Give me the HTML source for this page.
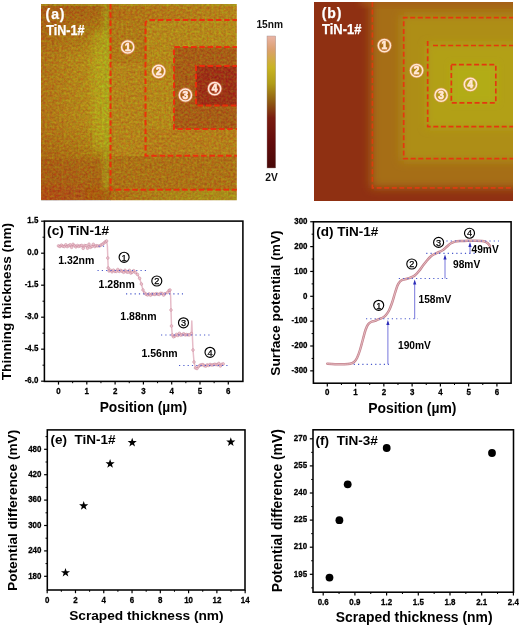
<!DOCTYPE html>
<html lang="en"><head><meta charset="utf-8"><title>Figure</title>
<style>html,body{margin:0;padding:0;background:#fff;}body{width:520px;height:627px;overflow:hidden;font-family:"Liberation Sans",Arial,sans-serif;}svg{display:block;}text{font-family:"Liberation Sans",Arial,sans-serif;font-weight:bold;}</style></head><body>
<svg width="520" height="627" viewBox="0 0 520 627">
<defs>
<clipPath id="ca"><rect x="41" y="4" width="195.8" height="196.2"/></clipPath>
<clipPath id="cb"><rect x="314" y="2" width="199" height="199"/></clipPath>
<filter id="grain" x="0" y="0" width="100%" height="100%" color-interpolation-filters="sRGB"><feTurbulence type="fractalNoise" baseFrequency="0.42" numOctaves="2" seed="3" result="t"/><feColorMatrix in="t" type="matrix" values="0.16 0 0 0 0.42  0 0.36 0 0 0.32  0 0 0.06 0 0.47  0 0 0 0 1" result="n"/><feComposite operator="arithmetic" in="SourceGraphic" in2="n" k1="0" k2="1" k3="1" k4="-0.5"/></filter>
<filter id="blur6" x="-20%" y="-20%" width="140%" height="140%"><feGaussianBlur stdDeviation="4.6"/></filter>
<filter id="blur4" x="-20%" y="-20%" width="140%" height="140%"><feGaussianBlur stdDeviation="4"/></filter>
<filter id="blur5" x="-20%" y="-20%" width="140%" height="140%"><feGaussianBlur stdDeviation="5"/></filter>
<filter id="blur3" x="-20%" y="-20%" width="140%" height="140%"><feGaussianBlur stdDeviation="3"/></filter>
<filter id="blur04" x="-5%" y="-5%" width="110%" height="110%"><feGaussianBlur stdDeviation="0.45"/></filter>
<filter id="blur1" x="-20%" y="-20%" width="140%" height="140%"><feGaussianBlur stdDeviation="1.2"/></filter>
<linearGradient id="cbar" x1="0" y1="0" x2="0" y2="1"><stop offset="0" stop-color="#EAB4A6"/><stop offset="0.10" stop-color="#DCA070"/><stop offset="0.24" stop-color="#C8B422"/><stop offset="0.36" stop-color="#B09C18"/><stop offset="0.50" stop-color="#8E5A12"/><stop offset="0.62" stop-color="#7A1C10"/><stop offset="0.80" stop-color="#640C0C"/><stop offset="1" stop-color="#480808"/></linearGradient>
<linearGradient id="aleft" x1="0" y1="0" x2="0" y2="1"><stop offset="0" stop-color="#A86414"/><stop offset="0.13" stop-color="#AA7A14"/><stop offset="0.28" stop-color="#B6961A"/><stop offset="0.6" stop-color="#B6941A"/><stop offset="0.78" stop-color="#AC7E14"/><stop offset="0.80" stop-color="#A86C14"/><stop offset="1" stop-color="#A86414"/></linearGradient>
<linearGradient id="abot" x1="0" y1="0" x2="1" y2="0"><stop offset="0" stop-color="#AE7016"/><stop offset="0.5" stop-color="#AC8418"/><stop offset="1" stop-color="#AA8C1A"/></linearGradient>
<linearGradient id="abl" x1="0" y1="0" x2="1" y2="0"><stop offset="0" stop-color="#B04812" stop-opacity="0.6"/><stop offset="1" stop-color="#B04812" stop-opacity="0"/></linearGradient>
<linearGradient id="atop" x1="0" y1="0" x2="1" y2="0"><stop offset="0" stop-color="#B07016"/><stop offset="1" stop-color="#B4841A"/></linearGradient>
<linearGradient id="afade" x1="0" y1="0" x2="1" y2="0"><stop offset="0" stop-color="#A85014" stop-opacity="0.5"/><stop offset="1" stop-color="#A85418" stop-opacity="0"/></linearGradient>
</defs>
<rect x="0" y="0" width="520" height="627" fill="#ffffff"/>
<g clip-path="url(#ca)">
<g filter="url(#grain)">
<rect x="41" y="4" width="196" height="196" fill="url(#aleft)"/>
<rect x="41" y="4" width="70" height="196" fill="url(#afade)"/>
<rect x="92" y="30" width="18" height="120" fill="#B2AE1C" opacity="0.5" filter="url(#blur3)"/>
<rect x="101" y="4" width="9" height="186" fill="#B2A81C" opacity="0.3" filter="url(#blur1)"/>
<rect x="104.5" y="4" width="3.5" height="190" fill="#A0AC20" opacity="0.4" filter="url(#blur1)"/>
<rect x="110.5" y="4" width="127" height="186" fill="#B4841A"/>
<rect x="110.5" y="4" width="127" height="16" fill="url(#atop)"/>
<rect x="110.5" y="20" width="35" height="43" fill="#AC7216" opacity="0.55"/>
<rect x="110.5" y="156" width="127" height="34" fill="#AC7216"/>
<rect x="146" y="20" width="92" height="136" fill="#B4881A"/>
<rect x="146" y="129" width="92" height="27" fill="#B47E1A"/>
<rect x="174" y="47" width="64" height="82" fill="#A65E16"/>
<rect x="196" y="66" width="42" height="39.5" fill="#9C3416"/>
<rect x="41" y="4" width="196" height="2" fill="#A89A1C" opacity="0.6"/>
<rect x="110.5" y="190" width="127" height="11" fill="url(#abot)"/>
<rect x="41" y="186" width="90" height="15" fill="url(#abl)" filter="url(#blur1)"/>
</g>
<g filter="url(#blur04)" opacity="0.92">
<path d="M110.5 4 V189.7 H238" stroke="#F02C0C" stroke-width="2" fill="none" stroke-dasharray="5.5 2.8"/>
<path d="M238 20 H149.5 Q145.5 20 145.5 24 V155.8 H238" stroke="#F02C0C" stroke-width="2" fill="none" stroke-dasharray="5.5 2.8"/>
<path d="M238 47 H174 V129 H238" stroke="#F02C0C" stroke-width="2" fill="none" stroke-dasharray="5.5 2.8"/>
<path d="M238 66 H196 V105.5 H238" stroke="#F02C0C" stroke-width="2" fill="none" stroke-dasharray="5.5 2.8"/>
</g>
</g>
<circle cx="127.7" cy="47" r="6.1" fill="none" stroke="#F29A78" stroke-width="3.1" opacity="0.45"/>
<circle cx="127.7" cy="47" r="6.1" fill="none" stroke="#FFE9DC" stroke-width="1.5"/>
<text x="127.7" y="50.55" font-size="10" text-anchor="middle" fill="#FFE9DC" stroke="#F29A78" stroke-width="1.6" stroke-opacity="0.45" paint-order="stroke">1</text>
<text x="127.7" y="50.55" font-size="10" text-anchor="middle" fill="#FFE9DC" stroke="#FFE9DC" stroke-width="0.4">1</text>
<circle cx="158.7" cy="71.3" r="6.1" fill="none" stroke="#F29A78" stroke-width="3.1" opacity="0.45"/>
<circle cx="158.7" cy="71.3" r="6.1" fill="none" stroke="#FFE9DC" stroke-width="1.5"/>
<text x="158.7" y="74.85" font-size="10" text-anchor="middle" fill="#FFE9DC" stroke="#F29A78" stroke-width="1.6" stroke-opacity="0.45" paint-order="stroke">2</text>
<text x="158.7" y="74.85" font-size="10" text-anchor="middle" fill="#FFE9DC" stroke="#FFE9DC" stroke-width="0.4">2</text>
<circle cx="185.4" cy="95" r="6.1" fill="none" stroke="#F29A78" stroke-width="3.1" opacity="0.45"/>
<circle cx="185.4" cy="95" r="6.1" fill="none" stroke="#FFE9DC" stroke-width="1.5"/>
<text x="185.4" y="98.55" font-size="10" text-anchor="middle" fill="#FFE9DC" stroke="#F29A78" stroke-width="1.6" stroke-opacity="0.45" paint-order="stroke">3</text>
<text x="185.4" y="98.55" font-size="10" text-anchor="middle" fill="#FFE9DC" stroke="#FFE9DC" stroke-width="0.4">3</text>
<circle cx="214.6" cy="88.7" r="6.1" fill="none" stroke="#F29A78" stroke-width="3.1" opacity="0.45"/>
<circle cx="214.6" cy="88.7" r="6.1" fill="none" stroke="#FFE9DC" stroke-width="1.5"/>
<text x="214.6" y="92.25" font-size="10" text-anchor="middle" fill="#FFE9DC" stroke="#F29A78" stroke-width="1.6" stroke-opacity="0.45" paint-order="stroke">4</text>
<text x="214.6" y="92.25" font-size="10" text-anchor="middle" fill="#FFE9DC" stroke="#FFE9DC" stroke-width="0.4">4</text>
<text x="45.6" y="19" font-size="14" letter-spacing="0.9" fill="#ffffff" stroke="#ffffff" stroke-width="0.25">(a)</text>
<text x="46.2" y="35" font-size="14.2" textLength="38.3" lengthAdjust="spacingAndGlyphs" fill="#ffffff" stroke="#ffffff" stroke-width="0.25">TiN-1#</text>
<rect x="267" y="36" width="8.7" height="132" fill="url(#cbar)" stroke="#9a8a88" stroke-width="0.4"/>
<text x="269.7" y="27.8" font-size="10.2" text-anchor="middle" fill="#111">15nm</text>
<text x="271.6" y="181.4" font-size="10.2" text-anchor="middle" fill="#111">2V</text>
<g clip-path="url(#cb)">
<rect x="314" y="2" width="199" height="199" fill="#8F3012"/>
<rect x="371" y="-30" width="190" height="218" fill="#A66E14" filter="url(#blur6)"/>
<rect x="401" y="15" width="160" height="146" fill="#AE8E16" filter="url(#blur5)"/>
<rect x="427" y="44" width="130" height="84" fill="#B2A016" filter="url(#blur4)"/>
<rect x="451" y="64" width="46" height="39" fill="#B2AC18" filter="url(#blur3)"/>
<rect x="360" y="-6" width="160" height="12" fill="#A45A12" opacity="0.7" filter="url(#blur3)"/>
<g filter="url(#blur04)">
<path d="M372.4 2 V187.8 H514" stroke="#E43810" stroke-width="1.7" fill="none" stroke-dasharray="5 2.6" opacity="0.85"/>
<path d="M514 17.6 H403.7 V158.7 H514" stroke="#E43810" stroke-width="1.7" fill="none" stroke-dasharray="5 2.6"/>
<path d="M514 45.5 H431.5 M427.7 41 V126.6 H514" stroke="#E43810" stroke-width="1.7" fill="none" stroke-dasharray="5 2.6"/>
<path d="M451.3 64.7 H495.8 V102.8 H451.3 Z" stroke="#E43810" stroke-width="1.7" fill="none" stroke-dasharray="5 2.6"/>
</g>
</g>
<circle cx="384.4" cy="45.6" r="6.1" fill="none" stroke="#F29A78" stroke-width="3.1" opacity="0.45"/>
<circle cx="384.4" cy="45.6" r="6.1" fill="none" stroke="#FFE8D2" stroke-width="1.5"/>
<text x="384.4" y="49.15" font-size="10" text-anchor="middle" fill="#FFE8D2" stroke="#F29A78" stroke-width="1.6" stroke-opacity="0.45" paint-order="stroke">1</text>
<text x="384.4" y="49.15" font-size="10" text-anchor="middle" fill="#FFE8D2" stroke="#FFE8D2" stroke-width="0.4">1</text>
<circle cx="416.6" cy="70.6" r="6.1" fill="none" stroke="#F29A78" stroke-width="3.1" opacity="0.45"/>
<circle cx="416.6" cy="70.6" r="6.1" fill="none" stroke="#FFE8D2" stroke-width="1.5"/>
<text x="416.6" y="74.15" font-size="10" text-anchor="middle" fill="#FFE8D2" stroke="#F29A78" stroke-width="1.6" stroke-opacity="0.45" paint-order="stroke">2</text>
<text x="416.6" y="74.15" font-size="10" text-anchor="middle" fill="#FFE8D2" stroke="#FFE8D2" stroke-width="0.4">2</text>
<circle cx="441.1" cy="95.2" r="6.1" fill="none" stroke="#F29A78" stroke-width="3.1" opacity="0.45"/>
<circle cx="441.1" cy="95.2" r="6.1" fill="none" stroke="#FFE8D2" stroke-width="1.5"/>
<text x="441.1" y="98.75" font-size="10" text-anchor="middle" fill="#FFE8D2" stroke="#F29A78" stroke-width="1.6" stroke-opacity="0.45" paint-order="stroke">3</text>
<text x="441.1" y="98.75" font-size="10" text-anchor="middle" fill="#FFE8D2" stroke="#FFE8D2" stroke-width="0.4">3</text>
<circle cx="470.4" cy="84.4" r="6.1" fill="none" stroke="#F29A78" stroke-width="3.1" opacity="0.45"/>
<circle cx="470.4" cy="84.4" r="6.1" fill="none" stroke="#FFE8D2" stroke-width="1.5"/>
<text x="470.4" y="87.95" font-size="10" text-anchor="middle" fill="#FFE8D2" stroke="#F29A78" stroke-width="1.6" stroke-opacity="0.45" paint-order="stroke">4</text>
<text x="470.4" y="87.95" font-size="10" text-anchor="middle" fill="#FFE8D2" stroke="#FFE8D2" stroke-width="0.4">4</text>
<text x="321.7" y="18.2" font-size="14" letter-spacing="0.9" fill="#ffffff" stroke="#ffffff" stroke-width="0.25">(b)</text>
<text x="322" y="33.6" font-size="14.2" textLength="39.4" lengthAdjust="spacingAndGlyphs" fill="#ffffff" stroke="#ffffff" stroke-width="0.25">TiN-1#</text>
<rect x="44.4" y="221.1" width="198.5" height="160.29999999999998" fill="none" stroke="#000" stroke-width="1.55"/>
<line x1="58.50" y1="381.4" x2="58.50" y2="384.59999999999997" stroke="#000" stroke-width="1.2"/>
<text transform="translate(58.50 393.92) scale(0.97 1.13)" font-size="8.2" text-anchor="middle" fill="#000" stroke="#000" stroke-width="0.25">0</text>
<line x1="86.80" y1="381.4" x2="86.80" y2="384.59999999999997" stroke="#000" stroke-width="1.2"/>
<text transform="translate(86.80 393.92) scale(0.97 1.13)" font-size="8.2" text-anchor="middle" fill="#000" stroke="#000" stroke-width="0.25">1</text>
<line x1="115.10" y1="381.4" x2="115.10" y2="384.59999999999997" stroke="#000" stroke-width="1.2"/>
<text transform="translate(115.10 393.92) scale(0.97 1.13)" font-size="8.2" text-anchor="middle" fill="#000" stroke="#000" stroke-width="0.25">2</text>
<line x1="143.40" y1="381.4" x2="143.40" y2="384.59999999999997" stroke="#000" stroke-width="1.2"/>
<text transform="translate(143.40 393.92) scale(0.97 1.13)" font-size="8.2" text-anchor="middle" fill="#000" stroke="#000" stroke-width="0.25">3</text>
<line x1="171.70" y1="381.4" x2="171.70" y2="384.59999999999997" stroke="#000" stroke-width="1.2"/>
<text transform="translate(171.70 393.92) scale(0.97 1.13)" font-size="8.2" text-anchor="middle" fill="#000" stroke="#000" stroke-width="0.25">4</text>
<line x1="200.00" y1="381.4" x2="200.00" y2="384.59999999999997" stroke="#000" stroke-width="1.2"/>
<text transform="translate(200.00 393.92) scale(0.97 1.13)" font-size="8.2" text-anchor="middle" fill="#000" stroke="#000" stroke-width="0.25">5</text>
<line x1="228.30" y1="381.4" x2="228.30" y2="384.59999999999997" stroke="#000" stroke-width="1.2"/>
<text transform="translate(228.30 393.92) scale(0.97 1.13)" font-size="8.2" text-anchor="middle" fill="#000" stroke="#000" stroke-width="0.25">6</text>
<line x1="72.65" y1="381.4" x2="72.65" y2="383.2" stroke="#000" stroke-width="1"/>
<line x1="100.95" y1="381.4" x2="100.95" y2="383.2" stroke="#000" stroke-width="1"/>
<line x1="129.25" y1="381.4" x2="129.25" y2="383.2" stroke="#000" stroke-width="1"/>
<line x1="157.55" y1="381.4" x2="157.55" y2="383.2" stroke="#000" stroke-width="1"/>
<line x1="185.85" y1="381.4" x2="185.85" y2="383.2" stroke="#000" stroke-width="1"/>
<line x1="214.15" y1="381.4" x2="214.15" y2="383.2" stroke="#000" stroke-width="1"/>
<line x1="41.099999999999994" y1="221.20" x2="44.3" y2="221.20" stroke="#000" stroke-width="1.2"/>
<text transform="translate(38.4 223.42) scale(0.97 1.13)" font-size="8.2" text-anchor="end" fill="#000" stroke="#000" stroke-width="0.25">1.5</text>
<line x1="41.099999999999994" y1="253.20" x2="44.3" y2="253.20" stroke="#000" stroke-width="1.2"/>
<text transform="translate(38.4 255.42) scale(0.97 1.13)" font-size="8.2" text-anchor="end" fill="#000" stroke="#000" stroke-width="0.25">0.0</text>
<line x1="41.099999999999994" y1="285.19" x2="44.3" y2="285.19" stroke="#000" stroke-width="1.2"/>
<text transform="translate(38.4 287.41) scale(0.97 1.13)" font-size="8.2" text-anchor="end" fill="#000" stroke="#000" stroke-width="0.25">-1.5</text>
<line x1="41.099999999999994" y1="317.19" x2="44.3" y2="317.19" stroke="#000" stroke-width="1.2"/>
<text transform="translate(38.4 319.41) scale(0.97 1.13)" font-size="8.2" text-anchor="end" fill="#000" stroke="#000" stroke-width="0.25">-3.0</text>
<line x1="41.099999999999994" y1="349.18" x2="44.3" y2="349.18" stroke="#000" stroke-width="1.2"/>
<text transform="translate(38.4 351.40) scale(0.97 1.13)" font-size="8.2" text-anchor="end" fill="#000" stroke="#000" stroke-width="0.25">-4.5</text>
<line x1="41.099999999999994" y1="381.18" x2="44.3" y2="381.18" stroke="#000" stroke-width="1.2"/>
<text transform="translate(38.4 383.40) scale(0.97 1.13)" font-size="8.2" text-anchor="end" fill="#000" stroke="#000" stroke-width="0.25">-6.0</text>
<line x1="42.5" y1="237.20" x2="44.3" y2="237.20" stroke="#000" stroke-width="1"/>
<line x1="42.5" y1="269.20" x2="44.3" y2="269.20" stroke="#000" stroke-width="1"/>
<line x1="42.5" y1="301.19" x2="44.3" y2="301.19" stroke="#000" stroke-width="1"/>
<line x1="42.5" y1="333.19" x2="44.3" y2="333.19" stroke="#000" stroke-width="1"/>
<line x1="42.5" y1="365.18" x2="44.3" y2="365.18" stroke="#000" stroke-width="1"/>
<text transform="translate(11.1 301.6) rotate(-90)" font-size="13.62" text-anchor="middle" fill="#000">Thinning thickness (nm)</text>
<text x="143.4" y="411.6" font-size="13.75" text-anchor="middle" fill="#000">Position (&#181;m)</text>
<text x="47.1" y="234.6" font-size="13.7" fill="#000">(c) TiN-1#</text>
<path d="M58.5 245.9 L60.0 246.5 L61.4 245.2 L62.9 246.2 L64.3 246.6 L65.8 244.8 L67.2 246.6 L68.7 245.7 L70.1 244.8 L71.6 247.3 L73.0 244.3 L74.5 245.7 L75.9 246.9 L77.4 245.5 L78.8 246.4 L80.3 245.8 L81.7 245.4 L83.2 248.3 L84.6 245.6 L86.1 245.7 L87.5 248.2 L89.0 244.2 L90.4 247.3 L91.9 246.5 L93.3 244.3 L94.8 246.6 L96.2 245.7 L97.7 245.9 L99.5 246.0 L101.0 245.0 L102.5 244.2 L104.0 243.0 L105.4 241.8 L106.6 241.0 L107.4 246.0 L107.8 258.0 L108.2 268.0 L109.0 271.0 L110.5 270.2 L112.0 271.8 L113.4 270.2 L114.9 271.4 L116.3 271.4 L117.8 269.5 L119.2 271.4 L120.7 270.4 L122.1 271.3 L123.6 272.3 L125.0 270.3 L126.5 271.9 L127.9 272.2 L129.4 270.4 L130.8 273.1 L132.2 272.3 L133.7 270.7 L135.5 272.6 L137.5 274.5 L139.6 278.3 L141.4 284.0 L143.0 290.0 L144.6 293.0 L146.2 294.3 L147.6 295.0 L149.1 293.9 L150.5 295.2 L152.0 294.0 L153.4 294.2 L154.9 294.5 L156.3 293.7 L157.8 294.2 L159.2 294.5 L160.7 293.3 L162.1 293.5 L163.6 295.1 L165.0 293.7 L167.5 292.5 L169.0 290.5 L170.0 290.0 L170.6 296.0 L171.0 310.0 L171.5 326.0 L172.3 335.0 L173.5 336.8 L175.0 336.0 L176.5 334.4 L177.9 335.5 L179.4 333.3 L180.8 335.1 L182.3 334.6 L183.7 333.8 L185.2 334.9 L186.6 334.6 L188.1 334.8 L189.5 334.9 L191.3 333.5 L191.8 321.0 L192.3 334.0 L193.0 350.0 L194.0 362.0 L195.5 368.0 L197.0 368.5 L198.5 366.5 L200.0 365.3 L201.4 364.8 L202.9 364.6 L204.3 365.7 L205.8 366.1 L207.2 364.9 L208.7 365.4 L210.1 364.5 L211.6 365.0 L213.0 364.9 L214.5 364.3 L215.9 364.5 L217.4 364.8 L218.8 363.4 L220.3 366.0 L221.7 364.4 L223.2 363.9" fill="none" stroke="#E6BCC8" stroke-width="1.5" stroke-linejoin="round" stroke-linecap="round"/>
<g fill="#EFC4CF" fill-opacity="0.75" stroke="#C07C90" stroke-width="0.55" stroke-opacity="0.85">
<circle cx="58.5" cy="245.9" r="1.35"/>
<circle cx="60.0" cy="246.5" r="1.35"/>
<circle cx="61.4" cy="245.2" r="1.35"/>
<circle cx="62.9" cy="246.2" r="1.35"/>
<circle cx="64.3" cy="246.6" r="1.35"/>
<circle cx="65.8" cy="244.8" r="1.35"/>
<circle cx="67.2" cy="246.6" r="1.35"/>
<circle cx="68.7" cy="245.7" r="1.35"/>
<circle cx="70.1" cy="244.8" r="1.35"/>
<circle cx="71.6" cy="247.3" r="1.35"/>
<circle cx="73.0" cy="244.3" r="1.35"/>
<circle cx="74.5" cy="245.7" r="1.35"/>
<circle cx="75.9" cy="246.9" r="1.35"/>
<circle cx="77.4" cy="245.5" r="1.35"/>
<circle cx="78.8" cy="246.4" r="1.35"/>
<circle cx="80.3" cy="245.8" r="1.35"/>
<circle cx="81.7" cy="245.4" r="1.35"/>
<circle cx="83.2" cy="248.3" r="1.35"/>
<circle cx="84.6" cy="245.6" r="1.35"/>
<circle cx="86.1" cy="245.7" r="1.35"/>
<circle cx="87.5" cy="248.2" r="1.35"/>
<circle cx="89.0" cy="244.2" r="1.35"/>
<circle cx="90.4" cy="247.3" r="1.35"/>
<circle cx="91.9" cy="246.5" r="1.35"/>
<circle cx="93.3" cy="244.3" r="1.35"/>
<circle cx="94.8" cy="246.6" r="1.35"/>
<circle cx="96.2" cy="245.7" r="1.35"/>
<circle cx="97.7" cy="245.9" r="1.35"/>
<circle cx="99.5" cy="246.0" r="1.35"/>
<circle cx="101.0" cy="245.0" r="1.35"/>
<circle cx="102.5" cy="244.2" r="1.35"/>
<circle cx="104.0" cy="243.0" r="1.35"/>
<circle cx="105.4" cy="241.8" r="1.35"/>
<circle cx="106.6" cy="241.0" r="1.35"/>
<circle cx="107.8" cy="258.0" r="1.35"/>
<circle cx="108.2" cy="268.0" r="1.35"/>
<circle cx="109.0" cy="271.0" r="1.35"/>
<circle cx="110.5" cy="270.2" r="1.35"/>
<circle cx="112.0" cy="271.8" r="1.35"/>
<circle cx="113.4" cy="270.2" r="1.35"/>
<circle cx="114.9" cy="271.4" r="1.35"/>
<circle cx="116.3" cy="271.4" r="1.35"/>
<circle cx="117.8" cy="269.5" r="1.35"/>
<circle cx="119.2" cy="271.4" r="1.35"/>
<circle cx="120.7" cy="270.4" r="1.35"/>
<circle cx="122.1" cy="271.3" r="1.35"/>
<circle cx="123.6" cy="272.3" r="1.35"/>
<circle cx="125.0" cy="270.3" r="1.35"/>
<circle cx="126.5" cy="271.9" r="1.35"/>
<circle cx="127.9" cy="272.2" r="1.35"/>
<circle cx="129.4" cy="270.4" r="1.35"/>
<circle cx="130.8" cy="273.1" r="1.35"/>
<circle cx="132.2" cy="272.3" r="1.35"/>
<circle cx="133.7" cy="270.7" r="1.35"/>
<circle cx="135.5" cy="272.6" r="1.35"/>
<circle cx="137.5" cy="274.5" r="1.35"/>
<circle cx="139.6" cy="278.3" r="1.35"/>
<circle cx="141.4" cy="284.0" r="1.35"/>
<circle cx="143.0" cy="290.0" r="1.35"/>
<circle cx="144.6" cy="293.0" r="1.35"/>
<circle cx="146.2" cy="294.3" r="1.35"/>
<circle cx="147.6" cy="295.0" r="1.35"/>
<circle cx="149.1" cy="293.9" r="1.35"/>
<circle cx="150.5" cy="295.2" r="1.35"/>
<circle cx="152.0" cy="294.0" r="1.35"/>
<circle cx="153.4" cy="294.2" r="1.35"/>
<circle cx="154.9" cy="294.5" r="1.35"/>
<circle cx="156.3" cy="293.7" r="1.35"/>
<circle cx="157.8" cy="294.2" r="1.35"/>
<circle cx="159.2" cy="294.5" r="1.35"/>
<circle cx="160.7" cy="293.3" r="1.35"/>
<circle cx="162.1" cy="293.5" r="1.35"/>
<circle cx="163.6" cy="295.1" r="1.35"/>
<circle cx="165.0" cy="293.7" r="1.35"/>
<circle cx="167.5" cy="292.5" r="1.35"/>
<circle cx="169.0" cy="290.5" r="1.35"/>
<circle cx="170.0" cy="290.0" r="1.35"/>
<circle cx="171.0" cy="310.0" r="1.35"/>
<circle cx="171.5" cy="326.0" r="1.35"/>
<circle cx="172.3" cy="335.0" r="1.35"/>
<circle cx="173.5" cy="336.8" r="1.35"/>
<circle cx="175.0" cy="336.0" r="1.35"/>
<circle cx="176.5" cy="334.4" r="1.35"/>
<circle cx="177.9" cy="335.5" r="1.35"/>
<circle cx="179.4" cy="333.3" r="1.35"/>
<circle cx="180.8" cy="335.1" r="1.35"/>
<circle cx="182.3" cy="334.6" r="1.35"/>
<circle cx="183.7" cy="333.8" r="1.35"/>
<circle cx="185.2" cy="334.9" r="1.35"/>
<circle cx="186.6" cy="334.6" r="1.35"/>
<circle cx="188.1" cy="334.8" r="1.35"/>
<circle cx="189.5" cy="334.9" r="1.35"/>
<circle cx="191.3" cy="333.5" r="1.35"/>
<circle cx="193.0" cy="350.0" r="1.35"/>
<circle cx="194.0" cy="362.0" r="1.35"/>
<circle cx="195.5" cy="368.0" r="1.35"/>
<circle cx="197.0" cy="368.5" r="1.35"/>
<circle cx="198.5" cy="366.5" r="1.35"/>
<circle cx="200.0" cy="365.3" r="1.35"/>
<circle cx="201.4" cy="364.8" r="1.35"/>
<circle cx="202.9" cy="364.6" r="1.35"/>
<circle cx="204.3" cy="365.7" r="1.35"/>
<circle cx="205.8" cy="366.1" r="1.35"/>
<circle cx="207.2" cy="364.9" r="1.35"/>
<circle cx="208.7" cy="365.4" r="1.35"/>
<circle cx="210.1" cy="364.5" r="1.35"/>
<circle cx="211.6" cy="365.0" r="1.35"/>
<circle cx="213.0" cy="364.9" r="1.35"/>
<circle cx="214.5" cy="364.3" r="1.35"/>
<circle cx="215.9" cy="364.5" r="1.35"/>
<circle cx="217.4" cy="364.8" r="1.35"/>
<circle cx="218.8" cy="363.4" r="1.35"/>
<circle cx="220.3" cy="366.0" r="1.35"/>
<circle cx="221.7" cy="364.4" r="1.35"/>
<circle cx="223.2" cy="363.9" r="1.35"/>
</g>
<line x1="98.6" y1="246.3" x2="107.0" y2="246.3" stroke="#4A5ACC" stroke-width="1.1" stroke-dasharray="1.2 3.1"/>
<line x1="97.5" y1="270.5" x2="147.0" y2="270.5" stroke="#4A5ACC" stroke-width="1.1" stroke-dasharray="1.2 3.1"/>
<line x1="126.0" y1="293.9" x2="183.0" y2="293.9" stroke="#4A5ACC" stroke-width="1.1" stroke-dasharray="1.2 3.1"/>
<line x1="161.0" y1="335.0" x2="211.0" y2="335.0" stroke="#4A5ACC" stroke-width="1.1" stroke-dasharray="1.2 3.1"/>
<line x1="179.0" y1="365.5" x2="229.0" y2="365.5" stroke="#4A5ACC" stroke-width="1.1" stroke-dasharray="1.2 3.1"/>
<circle cx="124.1" cy="257.3" r="5.0" fill="none" stroke="#000" stroke-width="1.15"/>
<text x="124.1" y="260.57" font-size="9.2" text-anchor="middle" fill="#000" stroke="#000" stroke-width="0.25" style="font-weight:normal">1</text>
<circle cx="156.8" cy="281" r="5.0" fill="none" stroke="#000" stroke-width="1.15"/>
<text x="156.8" y="284.27" font-size="9.2" text-anchor="middle" fill="#000" stroke="#000" stroke-width="0.25" style="font-weight:normal">2</text>
<circle cx="183.5" cy="322.8" r="5.0" fill="none" stroke="#000" stroke-width="1.15"/>
<text x="183.5" y="326.07" font-size="9.2" text-anchor="middle" fill="#000" stroke="#000" stroke-width="0.25" style="font-weight:normal">3</text>
<circle cx="210" cy="352.3" r="5.0" fill="none" stroke="#000" stroke-width="1.15"/>
<text x="210" y="355.57" font-size="9.2" text-anchor="middle" fill="#000" stroke="#000" stroke-width="0.25" style="font-weight:normal">4</text>
<text x="58.2" y="263.9" font-size="10.5" fill="#000">1.32nm</text>
<text x="98.6" y="288" font-size="10.5" fill="#000">1.28nm</text>
<text x="120.3" y="320.1" font-size="10.5" fill="#000">1.88nm</text>
<text x="141.5" y="356.8" font-size="10.5" fill="#000">1.56nm</text>
<rect x="313.4" y="221.8" width="197.70000000000005" height="161.39999999999998" fill="none" stroke="#000" stroke-width="1.55"/>
<line x1="327.30" y1="383.2" x2="327.30" y2="386.4" stroke="#000" stroke-width="1.2"/>
<text transform="translate(327.30 395.32) scale(0.97 1.13)" font-size="8.2" text-anchor="middle" fill="#000" stroke="#000" stroke-width="0.25">0</text>
<line x1="355.57" y1="383.2" x2="355.57" y2="386.4" stroke="#000" stroke-width="1.2"/>
<text transform="translate(355.57 395.32) scale(0.97 1.13)" font-size="8.2" text-anchor="middle" fill="#000" stroke="#000" stroke-width="0.25">1</text>
<line x1="383.84" y1="383.2" x2="383.84" y2="386.4" stroke="#000" stroke-width="1.2"/>
<text transform="translate(383.84 395.32) scale(0.97 1.13)" font-size="8.2" text-anchor="middle" fill="#000" stroke="#000" stroke-width="0.25">2</text>
<line x1="412.11" y1="383.2" x2="412.11" y2="386.4" stroke="#000" stroke-width="1.2"/>
<text transform="translate(412.11 395.32) scale(0.97 1.13)" font-size="8.2" text-anchor="middle" fill="#000" stroke="#000" stroke-width="0.25">3</text>
<line x1="440.38" y1="383.2" x2="440.38" y2="386.4" stroke="#000" stroke-width="1.2"/>
<text transform="translate(440.38 395.32) scale(0.97 1.13)" font-size="8.2" text-anchor="middle" fill="#000" stroke="#000" stroke-width="0.25">4</text>
<line x1="468.65" y1="383.2" x2="468.65" y2="386.4" stroke="#000" stroke-width="1.2"/>
<text transform="translate(468.65 395.32) scale(0.97 1.13)" font-size="8.2" text-anchor="middle" fill="#000" stroke="#000" stroke-width="0.25">5</text>
<line x1="496.92" y1="383.2" x2="496.92" y2="386.4" stroke="#000" stroke-width="1.2"/>
<text transform="translate(496.92 395.32) scale(0.97 1.13)" font-size="8.2" text-anchor="middle" fill="#000" stroke="#000" stroke-width="0.25">6</text>
<line x1="341.44" y1="383.2" x2="341.44" y2="385.0" stroke="#000" stroke-width="1"/>
<line x1="369.71" y1="383.2" x2="369.71" y2="385.0" stroke="#000" stroke-width="1"/>
<line x1="397.98" y1="383.2" x2="397.98" y2="385.0" stroke="#000" stroke-width="1"/>
<line x1="426.25" y1="383.2" x2="426.25" y2="385.0" stroke="#000" stroke-width="1"/>
<line x1="454.51" y1="383.2" x2="454.51" y2="385.0" stroke="#000" stroke-width="1"/>
<line x1="482.78" y1="383.2" x2="482.78" y2="385.0" stroke="#000" stroke-width="1"/>
<line x1="310.2" y1="221.75" x2="313.4" y2="221.75" stroke="#000" stroke-width="1.2"/>
<text transform="translate(307.5 223.97) scale(0.97 1.13)" font-size="8.2" text-anchor="end" fill="#000" stroke="#000" stroke-width="0.25">300</text>
<line x1="310.2" y1="246.60" x2="313.4" y2="246.60" stroke="#000" stroke-width="1.2"/>
<text transform="translate(307.5 248.82) scale(0.97 1.13)" font-size="8.2" text-anchor="end" fill="#000" stroke="#000" stroke-width="0.25">200</text>
<line x1="310.2" y1="271.45" x2="313.4" y2="271.45" stroke="#000" stroke-width="1.2"/>
<text transform="translate(307.5 273.67) scale(0.97 1.13)" font-size="8.2" text-anchor="end" fill="#000" stroke="#000" stroke-width="0.25">100</text>
<line x1="310.2" y1="296.30" x2="313.4" y2="296.30" stroke="#000" stroke-width="1.2"/>
<text transform="translate(307.5 298.52) scale(0.97 1.13)" font-size="8.2" text-anchor="end" fill="#000" stroke="#000" stroke-width="0.25">0</text>
<line x1="310.2" y1="321.15" x2="313.4" y2="321.15" stroke="#000" stroke-width="1.2"/>
<text transform="translate(307.5 323.37) scale(0.97 1.13)" font-size="8.2" text-anchor="end" fill="#000" stroke="#000" stroke-width="0.25">-100</text>
<line x1="310.2" y1="346.00" x2="313.4" y2="346.00" stroke="#000" stroke-width="1.2"/>
<text transform="translate(307.5 348.22) scale(0.97 1.13)" font-size="8.2" text-anchor="end" fill="#000" stroke="#000" stroke-width="0.25">-200</text>
<line x1="310.2" y1="370.85" x2="313.4" y2="370.85" stroke="#000" stroke-width="1.2"/>
<text transform="translate(307.5 373.07) scale(0.97 1.13)" font-size="8.2" text-anchor="end" fill="#000" stroke="#000" stroke-width="0.25">-300</text>
<line x1="311.59999999999997" y1="234.18" x2="313.4" y2="234.18" stroke="#000" stroke-width="1"/>
<line x1="311.59999999999997" y1="259.03" x2="313.4" y2="259.03" stroke="#000" stroke-width="1"/>
<line x1="311.59999999999997" y1="283.88" x2="313.4" y2="283.88" stroke="#000" stroke-width="1"/>
<line x1="311.59999999999997" y1="308.73" x2="313.4" y2="308.73" stroke="#000" stroke-width="1"/>
<line x1="311.59999999999997" y1="333.57" x2="313.4" y2="333.57" stroke="#000" stroke-width="1"/>
<line x1="311.59999999999997" y1="358.43" x2="313.4" y2="358.43" stroke="#000" stroke-width="1"/>
<text transform="translate(280 303) rotate(-90)" font-size="13.7" text-anchor="middle" fill="#000">Surface potential (mV)</text>
<text x="412.3" y="413" font-size="13.9" text-anchor="middle" fill="#000">Position (&#181;m)</text>
<text x="316.2" y="236.2" font-size="13.5" fill="#000">(d) TiN-1#</text>
<path d="M327.3 363.7 C328.6 363.8 332.4 364.1 335.0 364.2 C337.6 364.3 340.5 364.4 343.0 364.3 C345.5 364.2 348.2 364.2 350.0 363.8 C351.8 363.4 352.8 363.0 354.0 362.0 C355.2 361.0 356.0 360.0 357.0 358.0 C358.0 356.0 359.0 353.2 360.0 350.0 C361.0 346.8 362.1 342.3 363.0 339.0 C363.9 335.7 364.7 332.4 365.5 330.0 C366.3 327.6 367.1 325.8 368.0 324.5 C368.9 323.2 369.8 322.6 371.0 322.0 C372.2 321.4 373.7 321.3 375.0 320.8 C376.3 320.3 377.7 319.8 379.0 319.2 C380.3 318.6 381.8 318.2 383.0 317.5 C384.2 316.8 385.0 316.2 386.0 315.0 C387.0 313.8 388.0 312.5 389.0 310.5 C390.0 308.5 391.0 305.9 392.0 303.0 C393.0 300.1 394.1 295.9 395.0 293.0 C395.9 290.1 396.7 287.4 397.5 285.5 C398.3 283.6 399.1 282.5 400.0 281.5 C400.9 280.5 401.8 280.1 403.0 279.6 C404.2 279.2 405.7 279.2 407.0 278.8 C408.3 278.4 409.7 277.9 411.0 277.3 C412.3 276.7 413.7 276.4 415.0 275.3 C416.3 274.2 417.7 272.6 419.0 271.0 C420.3 269.4 421.7 267.2 423.0 265.5 C424.3 263.8 425.7 262.1 427.0 260.5 C428.3 258.9 429.7 257.3 431.0 256.2 C432.3 255.1 433.7 254.5 435.0 253.8 C436.3 253.1 437.7 252.6 439.0 252.0 C440.3 251.4 441.7 250.9 443.0 250.0 C444.3 249.1 445.7 247.6 447.0 246.5 C448.3 245.4 449.7 244.1 451.0 243.3 C452.3 242.5 453.5 242.0 455.0 241.6 C456.5 241.2 457.8 241.1 460.0 241.0 C462.2 240.9 465.3 240.9 468.0 240.8 C470.7 240.8 473.7 240.7 476.0 240.7 C478.3 240.7 480.4 240.7 482.0 240.9 C483.6 241.1 484.5 241.4 485.5 241.8 C486.5 242.2 487.2 242.8 488.0 243.5 C488.8 244.2 489.7 245.6 490.0 246.0" fill="none" stroke="#C68490" stroke-width="2.5" stroke-linecap="round"/>
<path d="M327.3 363.7 C328.6 363.8 332.4 364.1 335.0 364.2 C337.6 364.3 340.5 364.4 343.0 364.3 C345.5 364.2 348.2 364.2 350.0 363.8 C351.8 363.4 352.8 363.0 354.0 362.0 C355.2 361.0 356.0 360.0 357.0 358.0 C358.0 356.0 359.0 353.2 360.0 350.0 C361.0 346.8 362.1 342.3 363.0 339.0 C363.9 335.7 364.7 332.4 365.5 330.0 C366.3 327.6 367.1 325.8 368.0 324.5 C368.9 323.2 369.8 322.6 371.0 322.0 C372.2 321.4 373.7 321.3 375.0 320.8 C376.3 320.3 377.7 319.8 379.0 319.2 C380.3 318.6 381.8 318.2 383.0 317.5 C384.2 316.8 385.0 316.2 386.0 315.0 C387.0 313.8 388.0 312.5 389.0 310.5 C390.0 308.5 391.0 305.9 392.0 303.0 C393.0 300.1 394.1 295.9 395.0 293.0 C395.9 290.1 396.7 287.4 397.5 285.5 C398.3 283.6 399.1 282.5 400.0 281.5 C400.9 280.5 401.8 280.1 403.0 279.6 C404.2 279.2 405.7 279.2 407.0 278.8 C408.3 278.4 409.7 277.9 411.0 277.3 C412.3 276.7 413.7 276.4 415.0 275.3 C416.3 274.2 417.7 272.6 419.0 271.0 C420.3 269.4 421.7 267.2 423.0 265.5 C424.3 263.8 425.7 262.1 427.0 260.5 C428.3 258.9 429.7 257.3 431.0 256.2 C432.3 255.1 433.7 254.5 435.0 253.8 C436.3 253.1 437.7 252.6 439.0 252.0 C440.3 251.4 441.7 250.9 443.0 250.0 C444.3 249.1 445.7 247.6 447.0 246.5 C448.3 245.4 449.7 244.1 451.0 243.3 C452.3 242.5 453.5 242.0 455.0 241.6 C456.5 241.2 457.8 241.1 460.0 241.0 C462.2 240.9 465.3 240.9 468.0 240.8 C470.7 240.8 473.7 240.7 476.0 240.7 C478.3 240.7 480.4 240.7 482.0 240.9 C483.6 241.1 484.5 241.4 485.5 241.8 C486.5 242.2 487.2 242.8 488.0 243.5 C488.8 244.2 489.7 245.6 490.0 246.0" fill="none" stroke="#E4BCC0" stroke-width="1.0" stroke-linecap="round"/>
<line x1="353.7" y1="364.4" x2="389.0" y2="364.4" stroke="#4A5ACC" stroke-width="1.1" stroke-dasharray="1.2 3.1"/>
<line x1="366.0" y1="318.8" x2="418.0" y2="318.8" stroke="#4A5ACC" stroke-width="1.1" stroke-dasharray="1.2 3.1"/>
<line x1="398.8" y1="278.5" x2="449.0" y2="278.5" stroke="#4A5ACC" stroke-width="1.1" stroke-dasharray="1.2 3.1"/>
<line x1="426.2" y1="253.4" x2="476.0" y2="253.4" stroke="#4A5ACC" stroke-width="1.1" stroke-dasharray="1.2 3.1"/>
<line x1="446.4" y1="241.0" x2="499.0" y2="241.0" stroke="#4A5ACC" stroke-width="1.1" stroke-dasharray="1.2 3.1"/>
<line x1="387.9" y1="364.4" x2="387.9" y2="322.3" stroke="#4A4AD0" stroke-width="0.75"/>
<path d="M387.9 319.90000000000003 L386.29999999999995 324.90000000000003 L389.5 324.90000000000003 Z" fill="#2C2CB8"/>
<line x1="414.7" y1="318.8" x2="414.7" y2="282" stroke="#4A4AD0" stroke-width="0.75"/>
<path d="M414.7 279.6 L413.09999999999997 284.6 L416.3 284.6 Z" fill="#2C2CB8"/>
<line x1="445" y1="278.5" x2="445" y2="256.9" stroke="#4A4AD0" stroke-width="0.75"/>
<path d="M445 254.5 L443.4 259.5 L446.6 259.5 Z" fill="#2C2CB8"/>
<line x1="470" y1="253.4" x2="470" y2="244.5" stroke="#4A4AD0" stroke-width="0.75"/>
<path d="M470 242.1 L468.4 247.1 L471.6 247.1 Z" fill="#2C2CB8"/>
<circle cx="378.7" cy="305.3" r="5.0" fill="none" stroke="#000" stroke-width="1.15"/>
<text x="378.7" y="308.57" font-size="9.2" text-anchor="middle" fill="#000" stroke="#000" stroke-width="0.25" style="font-weight:normal">1</text>
<circle cx="411.8" cy="264" r="5.0" fill="none" stroke="#000" stroke-width="1.15"/>
<text x="411.8" y="267.27" font-size="9.2" text-anchor="middle" fill="#000" stroke="#000" stroke-width="0.25" style="font-weight:normal">2</text>
<circle cx="438.6" cy="242.4" r="5.0" fill="none" stroke="#000" stroke-width="1.15"/>
<text x="438.6" y="245.67" font-size="9.2" text-anchor="middle" fill="#000" stroke="#000" stroke-width="0.25" style="font-weight:normal">3</text>
<circle cx="469.5" cy="233.2" r="5.0" fill="none" stroke="#000" stroke-width="1.15"/>
<text x="469.5" y="236.47" font-size="9.2" text-anchor="middle" fill="#000" stroke="#000" stroke-width="0.25" style="font-weight:normal">4</text>
<text x="398" y="348.5" font-size="10.2" fill="#000">190mV</text>
<text x="418.5" y="303" font-size="10.2" fill="#000">158mV</text>
<text x="453" y="268.4" font-size="10.2" fill="#000">98mV</text>
<text x="471.5" y="252.5" font-size="10.2" fill="#000">49mV</text>
<rect x="47.3" y="429.9" width="197.7" height="160.10000000000002" fill="none" stroke="#000" stroke-width="1.55"/>
<line x1="47.20" y1="590" x2="47.20" y2="593.2" stroke="#000" stroke-width="1.2"/>
<text transform="translate(47.20 602.52) scale(0.97 1.13)" font-size="8.2" text-anchor="middle" fill="#000" stroke="#000" stroke-width="0.25">0</text>
<line x1="75.48" y1="590" x2="75.48" y2="593.2" stroke="#000" stroke-width="1.2"/>
<text transform="translate(75.48 602.52) scale(0.97 1.13)" font-size="8.2" text-anchor="middle" fill="#000" stroke="#000" stroke-width="0.25">2</text>
<line x1="103.76" y1="590" x2="103.76" y2="593.2" stroke="#000" stroke-width="1.2"/>
<text transform="translate(103.76 602.52) scale(0.97 1.13)" font-size="8.2" text-anchor="middle" fill="#000" stroke="#000" stroke-width="0.25">4</text>
<line x1="132.04" y1="590" x2="132.04" y2="593.2" stroke="#000" stroke-width="1.2"/>
<text transform="translate(132.04 602.52) scale(0.97 1.13)" font-size="8.2" text-anchor="middle" fill="#000" stroke="#000" stroke-width="0.25">6</text>
<line x1="160.32" y1="590" x2="160.32" y2="593.2" stroke="#000" stroke-width="1.2"/>
<text transform="translate(160.32 602.52) scale(0.97 1.13)" font-size="8.2" text-anchor="middle" fill="#000" stroke="#000" stroke-width="0.25">8</text>
<line x1="188.60" y1="590" x2="188.60" y2="593.2" stroke="#000" stroke-width="1.2"/>
<text transform="translate(188.60 602.52) scale(0.97 1.13)" font-size="8.2" text-anchor="middle" fill="#000" stroke="#000" stroke-width="0.25">10</text>
<line x1="216.88" y1="590" x2="216.88" y2="593.2" stroke="#000" stroke-width="1.2"/>
<text transform="translate(216.88 602.52) scale(0.97 1.13)" font-size="8.2" text-anchor="middle" fill="#000" stroke="#000" stroke-width="0.25">12</text>
<line x1="245.16" y1="590" x2="245.16" y2="593.2" stroke="#000" stroke-width="1.2"/>
<text transform="translate(245.16 602.52) scale(0.97 1.13)" font-size="8.2" text-anchor="middle" fill="#000" stroke="#000" stroke-width="0.25">14</text>
<line x1="61.34" y1="590" x2="61.34" y2="591.8" stroke="#000" stroke-width="1"/>
<line x1="89.62" y1="590" x2="89.62" y2="591.8" stroke="#000" stroke-width="1"/>
<line x1="117.90" y1="590" x2="117.90" y2="591.8" stroke="#000" stroke-width="1"/>
<line x1="146.18" y1="590" x2="146.18" y2="591.8" stroke="#000" stroke-width="1"/>
<line x1="174.46" y1="590" x2="174.46" y2="591.8" stroke="#000" stroke-width="1"/>
<line x1="202.74" y1="590" x2="202.74" y2="591.8" stroke="#000" stroke-width="1"/>
<line x1="231.02" y1="590" x2="231.02" y2="591.8" stroke="#000" stroke-width="1"/>
<line x1="44.099999999999994" y1="449.30" x2="47.3" y2="449.30" stroke="#000" stroke-width="1.2"/>
<text transform="translate(41.4 451.52) scale(0.97 1.13)" font-size="8.2" text-anchor="end" fill="#000" stroke="#000" stroke-width="0.25">480</text>
<line x1="44.099999999999994" y1="474.70" x2="47.3" y2="474.70" stroke="#000" stroke-width="1.2"/>
<text transform="translate(41.4 476.92) scale(0.97 1.13)" font-size="8.2" text-anchor="end" fill="#000" stroke="#000" stroke-width="0.25">420</text>
<line x1="44.099999999999994" y1="500.10" x2="47.3" y2="500.10" stroke="#000" stroke-width="1.2"/>
<text transform="translate(41.4 502.32) scale(0.97 1.13)" font-size="8.2" text-anchor="end" fill="#000" stroke="#000" stroke-width="0.25">360</text>
<line x1="44.099999999999994" y1="525.50" x2="47.3" y2="525.50" stroke="#000" stroke-width="1.2"/>
<text transform="translate(41.4 527.72) scale(0.97 1.13)" font-size="8.2" text-anchor="end" fill="#000" stroke="#000" stroke-width="0.25">300</text>
<line x1="44.099999999999994" y1="550.90" x2="47.3" y2="550.90" stroke="#000" stroke-width="1.2"/>
<text transform="translate(41.4 553.12) scale(0.97 1.13)" font-size="8.2" text-anchor="end" fill="#000" stroke="#000" stroke-width="0.25">240</text>
<line x1="44.099999999999994" y1="576.30" x2="47.3" y2="576.30" stroke="#000" stroke-width="1.2"/>
<text transform="translate(41.4 578.52) scale(0.97 1.13)" font-size="8.2" text-anchor="end" fill="#000" stroke="#000" stroke-width="0.25">180</text>
<line x1="45.5" y1="436.60" x2="47.3" y2="436.60" stroke="#000" stroke-width="1"/>
<line x1="45.5" y1="462.00" x2="47.3" y2="462.00" stroke="#000" stroke-width="1"/>
<line x1="45.5" y1="487.40" x2="47.3" y2="487.40" stroke="#000" stroke-width="1"/>
<line x1="45.5" y1="512.80" x2="47.3" y2="512.80" stroke="#000" stroke-width="1"/>
<line x1="45.5" y1="538.20" x2="47.3" y2="538.20" stroke="#000" stroke-width="1"/>
<line x1="45.5" y1="563.60" x2="47.3" y2="563.60" stroke="#000" stroke-width="1"/>
<text transform="translate(17 510.3) rotate(-90)" font-size="13.7" text-anchor="middle" fill="#000">Potential difference (mV)</text>
<text x="146.4" y="619.8" font-size="13.7" text-anchor="middle" fill="#000">Scraped thickness (nm)</text>
<text x="50.5" y="444.3" font-size="13.5" fill="#000" xml:space="preserve">(e)  TiN-1#</text>
<polygon points="65.50,567.90 66.63,571.15 70.07,571.22 67.33,573.29 68.32,576.58 65.50,574.62 62.68,576.58 63.67,573.29 60.93,571.22 64.37,571.15" fill="#000"/>
<polygon points="83.70,501.00 84.83,504.25 88.27,504.32 85.53,506.39 86.52,509.68 83.70,507.72 80.88,509.68 81.87,506.39 79.13,504.32 82.57,504.25" fill="#000"/>
<polygon points="110.10,459.00 111.23,462.25 114.67,462.32 111.93,464.39 112.92,467.68 110.10,465.72 107.28,467.68 108.27,464.39 105.53,462.32 108.97,462.25" fill="#000"/>
<polygon points="132.20,437.80 133.33,441.05 136.77,441.12 134.03,443.19 135.02,446.48 132.20,444.52 129.38,446.48 130.37,443.19 127.63,441.12 131.07,441.05" fill="#000"/>
<polygon points="230.80,437.30 231.93,440.55 235.37,440.62 232.63,442.69 233.62,445.98 230.80,444.02 227.98,445.98 228.97,442.69 226.23,440.62 229.67,440.55" fill="#000"/>
<rect x="313.0" y="429.8" width="200.5" height="162.40000000000003" fill="none" stroke="#000" stroke-width="1.55"/>
<line x1="323.20" y1="592.2" x2="323.20" y2="595.4000000000001" stroke="#000" stroke-width="1.2"/>
<text transform="translate(323.20 604.82) scale(0.97 1.13)" font-size="8.2" text-anchor="middle" fill="#000" stroke="#000" stroke-width="0.25">0.6</text>
<line x1="354.90" y1="592.2" x2="354.90" y2="595.4000000000001" stroke="#000" stroke-width="1.2"/>
<text transform="translate(354.90 604.82) scale(0.97 1.13)" font-size="8.2" text-anchor="middle" fill="#000" stroke="#000" stroke-width="0.25">0.9</text>
<line x1="386.60" y1="592.2" x2="386.60" y2="595.4000000000001" stroke="#000" stroke-width="1.2"/>
<text transform="translate(386.60 604.82) scale(0.97 1.13)" font-size="8.2" text-anchor="middle" fill="#000" stroke="#000" stroke-width="0.25">1.2</text>
<line x1="418.30" y1="592.2" x2="418.30" y2="595.4000000000001" stroke="#000" stroke-width="1.2"/>
<text transform="translate(418.30 604.82) scale(0.97 1.13)" font-size="8.2" text-anchor="middle" fill="#000" stroke="#000" stroke-width="0.25">1.5</text>
<line x1="450.00" y1="592.2" x2="450.00" y2="595.4000000000001" stroke="#000" stroke-width="1.2"/>
<text transform="translate(450.00 604.82) scale(0.97 1.13)" font-size="8.2" text-anchor="middle" fill="#000" stroke="#000" stroke-width="0.25">1.8</text>
<line x1="481.70" y1="592.2" x2="481.70" y2="595.4000000000001" stroke="#000" stroke-width="1.2"/>
<text transform="translate(481.70 604.82) scale(0.97 1.13)" font-size="8.2" text-anchor="middle" fill="#000" stroke="#000" stroke-width="0.25">2.1</text>
<line x1="513.40" y1="592.2" x2="513.40" y2="595.4000000000001" stroke="#000" stroke-width="1.2"/>
<text transform="translate(513.40 604.82) scale(0.97 1.13)" font-size="8.2" text-anchor="middle" fill="#000" stroke="#000" stroke-width="0.25">2.4</text>
<line x1="339.05" y1="592.2" x2="339.05" y2="594.0" stroke="#000" stroke-width="1"/>
<line x1="370.75" y1="592.2" x2="370.75" y2="594.0" stroke="#000" stroke-width="1"/>
<line x1="402.45" y1="592.2" x2="402.45" y2="594.0" stroke="#000" stroke-width="1"/>
<line x1="434.15" y1="592.2" x2="434.15" y2="594.0" stroke="#000" stroke-width="1"/>
<line x1="465.85" y1="592.2" x2="465.85" y2="594.0" stroke="#000" stroke-width="1"/>
<line x1="497.55" y1="592.2" x2="497.55" y2="594.0" stroke="#000" stroke-width="1"/>
<line x1="309.8" y1="438.80" x2="313.0" y2="438.80" stroke="#000" stroke-width="1.2"/>
<text transform="translate(307.1 441.02) scale(0.97 1.13)" font-size="8.2" text-anchor="end" fill="#000" stroke="#000" stroke-width="0.25">270</text>
<line x1="309.8" y1="465.90" x2="313.0" y2="465.90" stroke="#000" stroke-width="1.2"/>
<text transform="translate(307.1 468.12) scale(0.97 1.13)" font-size="8.2" text-anchor="end" fill="#000" stroke="#000" stroke-width="0.25">255</text>
<line x1="309.8" y1="493.00" x2="313.0" y2="493.00" stroke="#000" stroke-width="1.2"/>
<text transform="translate(307.1 495.22) scale(0.97 1.13)" font-size="8.2" text-anchor="end" fill="#000" stroke="#000" stroke-width="0.25">240</text>
<line x1="309.8" y1="520.10" x2="313.0" y2="520.10" stroke="#000" stroke-width="1.2"/>
<text transform="translate(307.1 522.32) scale(0.97 1.13)" font-size="8.2" text-anchor="end" fill="#000" stroke="#000" stroke-width="0.25">225</text>
<line x1="309.8" y1="547.20" x2="313.0" y2="547.20" stroke="#000" stroke-width="1.2"/>
<text transform="translate(307.1 549.42) scale(0.97 1.13)" font-size="8.2" text-anchor="end" fill="#000" stroke="#000" stroke-width="0.25">210</text>
<line x1="309.8" y1="574.30" x2="313.0" y2="574.30" stroke="#000" stroke-width="1.2"/>
<text transform="translate(307.1 576.52) scale(0.97 1.13)" font-size="8.2" text-anchor="end" fill="#000" stroke="#000" stroke-width="0.25">195</text>
<line x1="311.2" y1="452.35" x2="313.0" y2="452.35" stroke="#000" stroke-width="1"/>
<line x1="311.2" y1="479.45" x2="313.0" y2="479.45" stroke="#000" stroke-width="1"/>
<line x1="311.2" y1="506.55" x2="313.0" y2="506.55" stroke="#000" stroke-width="1"/>
<line x1="311.2" y1="533.65" x2="313.0" y2="533.65" stroke="#000" stroke-width="1"/>
<line x1="311.2" y1="560.75" x2="313.0" y2="560.75" stroke="#000" stroke-width="1"/>
<line x1="311.2" y1="587.85" x2="313.0" y2="587.85" stroke="#000" stroke-width="1"/>
<text transform="translate(282 510.8) rotate(-90)" font-size="13.85" text-anchor="middle" fill="#000">Potential difference (mV)</text>
<text x="414.2" y="622.4" font-size="13.9" text-anchor="middle" fill="#000">Scraped thickness (nm)</text>
<text x="315.5" y="445.1" font-size="13.6" fill="#000" xml:space="preserve">(f)  TiN-3#</text>
<circle cx="329.5" cy="577.6" r="3.9" fill="#000"/>
<circle cx="339.4" cy="520.2" r="3.9" fill="#000"/>
<circle cx="347.7" cy="484.3" r="3.9" fill="#000"/>
<circle cx="386.7" cy="448" r="3.9" fill="#000"/>
<circle cx="492" cy="453" r="3.9" fill="#000"/>
</svg></body></html>
